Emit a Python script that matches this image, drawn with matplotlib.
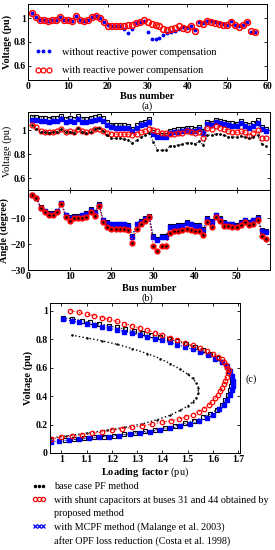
import matplotlib.pyplot as plt
from matplotlib.lines import Line2D

plt.rcParams['font.family'] = ['Liberation Serif', 'DejaVu Serif']
plt.rcParams['font.size'] = 7
plt.rcParams['mathtext.fontset'] = 'custom'
plt.rcParams['mathtext.rm'] = 'Liberation Serif'
plt.rcParams['mathtext.bf'] = 'Liberation Serif:bold'

# --- (a) bus voltages, IEEE 57-bus
bus = list(range(1, 58))
v_without = [1.04, 1.01, 0.985, 0.98, 0.975, 0.98, 0.985, 1.005, 0.98, 0.985,
             0.975, 1.015, 0.985, 0.975, 0.985, 1.01, 1.015, 1.0, 0.965, 0.94,
             0.935, 0.935, 0.935, 0.91, 0.875, 0.905, 0.96, 0.97, 0.975, 0.885,
             0.82, 0.82, 0.83, 0.86, 0.875, 0.885, 0.89, 0.905, 0.925, 0.915,
             0.935, 0.9, 0.965, 0.955, 0.975, 0.975, 0.965, 0.955, 0.95, 0.945,
             0.975, 0.945, 0.93, 0.945, 0.97, 0.885, 0.88]
v_with = [1.04, 1.01, 0.985, 0.98, 0.975, 0.98, 0.985, 1.005, 0.98, 0.985,
          0.975, 1.015, 0.985, 0.975, 0.985, 1.01, 1.015, 1.0, 0.965, 0.935,
          0.93, 0.93, 0.93, 0.93, 0.945, 0.94, 0.96, 0.97, 0.98, 0.965,
          0.95, 0.94, 0.93, 0.905, 0.9, 0.905, 0.915, 0.93, 0.92, 0.91,
          0.93, 0.89, 0.96, 0.95, 0.975, 0.97, 0.96, 0.95, 0.945, 0.94,
          0.97, 0.94, 0.925, 0.94, 0.965, 0.89, 0.885]

# --- (b) voltages and angles for four methods
vb_base = [1.04, 1.01, 0.985, 0.98, 0.975, 0.98, 0.985, 1.005, 0.98, 0.985,
           0.975, 1.015, 0.985, 0.975, 0.985, 1.01, 1.015, 0.995, 0.955, 0.93,
           0.93, 0.93, 0.925, 0.92, 0.89, 0.915, 0.94, 0.955, 0.975, 0.9,
           0.835, 0.83, 0.835, 0.865, 0.87, 0.875, 0.88, 0.895, 0.89, 0.885,
           0.905, 0.875, 0.96, 0.955, 0.97, 0.965, 0.955, 0.945, 0.945, 0.94,
           0.95, 0.94, 0.93, 0.94, 0.955, 0.885, 0.87]
vb_shunt = [1.04, 1.025, 0.99, 0.985, 0.985, 0.985, 0.99, 1.01, 0.985, 0.99,
            0.98, 1.01, 0.99, 0.98, 0.99, 1.005, 1.01, 0.995, 0.975, 0.97,
            0.965, 0.965, 0.965, 0.965, 0.955, 0.965, 0.98, 0.99, 1.01, 1.0,
            0.99, 0.975, 0.975, 0.97, 0.97, 0.975, 0.975, 0.99, 0.98, 0.975,
            0.985, 0.935, 1.02, 1.01, 1.03, 1.02, 1.01, 0.99, 0.985, 0.98,
            0.995, 0.98, 0.95, 0.975, 1.0, 0.935, 0.93]
vb_mcpf = [1.085, 1.085, 1.075, 1.075, 1.07, 1.075, 1.075, 1.09, 1.07, 1.075,
           1.065, 1.09, 1.07, 1.065, 1.075, 1.085, 1.09, 1.075, 1.045, 1.025,
           1.02, 1.02, 1.02, 1.015, 0.99, 1.02, 1.04, 1.05, 1.07, 0.965,
           0.94, 0.94, 0.94, 0.975, 0.98, 0.985, 0.99, 1.0, 0.995, 0.99,
           1.005, 0.975, 1.05, 1.04, 1.065, 1.055, 1.05, 1.04, 1.035, 1.03,
           1.055, 1.03, 1.02, 1.035, 1.055, 1.005, 0.995]
vb_opf = [1.11, 1.11, 1.10, 1.10, 1.095, 1.10, 1.10, 1.115, 1.095, 1.10,
          1.09, 1.115, 1.095, 1.09, 1.10, 1.11, 1.115, 1.10, 1.065, 1.045,
          1.04, 1.04, 1.04, 1.035, 1.01, 1.04, 1.06, 1.07, 1.09, 0.985,
          0.96, 0.96, 0.96, 0.995, 1.0, 1.005, 1.01, 1.02, 1.015, 1.01,
          1.025, 0.995, 1.07, 1.06, 1.085, 1.075, 1.07, 1.06, 1.055, 1.05,
          1.075, 1.05, 1.04, 1.055, 1.08, 1.025, 1.01]

ang_base = [-0.8, -2, -6, -7.5, -8.5, -8.8, -7.5, -4.5, -9.5, -11,
            -10, -10, -10, -9.5, -7.5, -9, -5, -11.5, -13.5, -14,
            -14, -14, -14, -14.5, -19.5, -14, -12, -11, -9.5, -20.5,
            -22.5, -20.5, -20.5, -15.5, -15, -15, -14.5, -14, -14.5, -15,
            -15, -16.5, -11.5, -13.5, -9.5, -11, -13, -13, -13.5, -13.5,
            -12.5, -11.5, -12.5, -12, -10.5, -17, -18]
ang_shunt = [-0.8, -2, -6, -7.5, -8.5, -8.8, -7.5, -4.5, -9.5, -11,
             -10, -10, -10, -9.5, -7.5, -9, -5, -11.5, -13.5, -14,
             -14, -14, -14, -14.5, -19.5, -14, -12, -11, -9.5, -20.5,
             -22.5, -20.5, -20.5, -15.5, -15, -15, -14.5, -14, -14.5, -15,
             -15, -16.5, -11.5, -13.5, -9.5, -11, -13, -13, -13.5, -13.5,
             -12.5, -11.5, -12.5, -12, -10.5, -17, -18]
ang_mcpf = [-0.8, -2, -5.8, -7.3, -8.1, -8.3, -7.3, -4.2, -8.8, -9.8,
            -9.3, -9.3, -8.8, -8.3, -6.8, -7.8, -4.7, -10.8, -11.8, -12.3,
            -12.3, -12.3, -12.3, -12.8, -17.3, -12.3, -11.3, -10.3, -9.3, -17.3,
            -18.3, -17.3, -17.3, -13.3, -13.3, -12.8, -12.8, -11.8, -12.3, -12.8,
            -12.8, -14.3, -10.3, -11.3, -8.8, -10.3, -11.8, -12.3, -12.3, -12.8,
            -11.8, -10.8, -11.8, -10.8, -9.8, -14.8, -15.3]
ang_opf = [-0.8, -2, -5.5, -7, -7.8, -8, -7, -4, -8.5, -9.5,
           -9, -9, -8.5, -8, -6.5, -7.5, -4.5, -10.5, -11.5, -12,
           -12, -12, -12, -12.5, -17, -12, -11, -10, -9, -17,
           -18, -17, -17, -13, -13, -12.5, -12.5, -11.5, -12, -12.5,
           -12.5, -14, -10, -11, -8.5, -10, -11.5, -12, -12, -12.5,
           -11.5, -10.5, -11.5, -10.5, -9.5, -14.5, -15]

# --- (c) PV curves
lf_base = [1.04, 1.10, 1.16, 1.22, 1.28, 1.34, 1.39, 1.43, 1.47, 1.50, 1.52, 1.535, 1.543,
           1.542, 1.535, 1.52, 1.50, 1.47, 1.43, 1.38, 1.32, 1.25, 1.18, 1.10, 1.02, 0.96]
v_base = [0.83, 0.81, 0.79, 0.765, 0.735, 0.70, 0.665, 0.63, 0.59, 0.555, 0.525, 0.495, 0.46,
          0.42, 0.39, 0.36, 0.33, 0.30, 0.265, 0.235, 0.205, 0.18, 0.16, 0.14, 0.12, 0.105]
lf_shunt = [1.036, 1.07, 1.10, 1.13, 1.16, 1.19, 1.22, 1.25, 1.28, 1.31, 1.34, 1.37, 1.40,
            1.43, 1.46, 1.49, 1.52, 1.55, 1.575, 1.60, 1.62, 1.635, 1.645, 1.653, 1.658,
            1.663, 1.66, 1.655, 1.65, 1.644, 1.637, 1.63, 1.62, 1.61, 1.597, 1.583, 1.566,
            1.545, 1.52, 1.495, 1.465, 1.435, 1.40, 1.36, 1.32, 1.28, 1.24, 1.20, 1.16,
            1.12, 1.08, 1.04, 1.00, 0.96]
v_shunt = [1.0, 0.99, 0.978, 0.966, 0.953, 0.94, 0.926, 0.911, 0.896, 0.88, 0.864, 0.848, 0.831,
           0.813, 0.795, 0.776, 0.757, 0.737, 0.718, 0.697, 0.677, 0.66, 0.64, 0.62, 0.60,
           0.585, 0.56, 0.535, 0.51, 0.485, 0.46, 0.435, 0.41, 0.385, 0.36, 0.335, 0.31,
           0.29, 0.27, 0.255, 0.24, 0.228, 0.216, 0.204, 0.192, 0.18, 0.17, 0.16, 0.148,
           0.138, 0.128, 0.118, 0.11, 0.10]
lf_mcpf = [1.007, 1.04, 1.07, 1.10, 1.13, 1.16, 1.19, 1.22, 1.25, 1.28, 1.31, 1.34, 1.37,
           1.40, 1.43, 1.46, 1.49, 1.52, 1.55, 1.58, 1.61, 1.635, 1.655, 1.668, 1.675,
           1.678, 1.678, 1.675, 1.668, 1.657, 1.643, 1.625, 1.60, 1.575, 1.545, 1.51,
           1.47, 1.43, 1.39, 1.35, 1.31, 1.27, 1.23, 1.19, 1.15, 1.11, 1.07, 1.03, 0.99, 0.96]
v_mcpf = [0.94, 0.93, 0.92, 0.91, 0.90, 0.889, 0.878, 0.867, 0.855, 0.843, 0.831, 0.819, 0.806,
          0.792, 0.778, 0.763, 0.747, 0.73, 0.711, 0.69, 0.665, 0.64, 0.61, 0.58, 0.545,
          0.51, 0.475, 0.44, 0.405, 0.37, 0.34, 0.31, 0.27, 0.245, 0.225, 0.205,
          0.188, 0.175, 0.162, 0.151, 0.14, 0.131, 0.123, 0.116, 0.11, 0.103, 0.097, 0.09, 0.085, 0.08]
lf_opf = [1.007, 1.042, 1.08, 1.115, 1.15, 1.187, 1.22, 1.253, 1.286, 1.32, 1.355, 1.39,
          1.425, 1.46, 1.495, 1.53, 1.56, 1.59, 1.615, 1.638, 1.655, 1.665, 1.672, 1.675,
          1.674, 1.67, 1.662, 1.65, 1.635, 1.615, 1.59, 1.56, 1.525, 1.49, 1.45, 1.41,
          1.37, 1.33, 1.29, 1.25, 1.21, 1.17, 1.13, 1.09, 1.05, 1.016]
v_opf = [0.953, 0.944, 0.932, 0.92, 0.908, 0.896, 0.884, 0.872, 0.86, 0.847, 0.833, 0.818,
         0.802, 0.785, 0.766, 0.745, 0.722, 0.697, 0.67, 0.64, 0.61, 0.58, 0.545, 0.51,
         0.475, 0.44, 0.405, 0.37, 0.34, 0.305, 0.275, 0.25, 0.228, 0.208, 0.19, 0.176,
         0.163, 0.152, 0.141, 0.131, 0.123, 0.116, 0.11, 0.103, 0.096, 0.088]

c_xticks = [1, 1.1, 1.2, 1.3, 1.4, 1.5, 1.6, 1.7]
c_xlabels = ['1', '1.1', '1.2', '1.3', '1.4', '1.5', '1.6', '1.7']
c_yticks = [0, 0.2, 0.4, 0.6, 0.8, 1]
c_ylabels = ['0', '0.2', '0.4', '0.6', '0.8', '1']


def style(ax):
    ax.tick_params(direction='in', top=True, right=True, length=2.5, width=0.6,
                   labelsize=7, pad=1.5)
    for lbl in ax.get_xticklabels() + ax.get_yticklabels():
        lbl.set_fontweight('bold')
    for s in ax.spines.values():
        s.set_linewidth(0.7)


fig = plt.figure(figsize=(2.75, 5.5), dpi=100)

# ---------------- (a)
ax = fig.add_axes([0.102, 0.855, 0.869, 0.138])
ax.plot(bus, v_without, ls='none', marker='.', color='blue', ms=3.5)
ax.plot(bus, v_with, ls='none', marker='o', mfc='none', mec='red', ms=4.2, mew=1.1)
ax.set_xlim(0, 60)
ax.set_ylim(0.48, 1.12)
ax.set_xticks([0, 10, 20, 30, 40, 50, 60])
ax.set_yticks([0.6, 0.8, 1])
ax.set_yticklabels(['0.6', '0.8', '1'])
ax.set_ylabel('Voltage (pu)', fontsize=7.5, fontweight='bold', labelpad=1)
ax.set_xlabel('Bus number', fontsize=7.5, fontweight='bold')
ax.xaxis.set_label_coords(0.5, -12.5 / 76)
style(ax)
h_a = [Line2D([], [], ls='none', marker='.', color='blue', ms=3.5),
       Line2D([], [], ls='none', marker='o', mfc='none', mec='red', ms=3.5, mew=0.9)]
ax.legend(h_a, ['without reactive power compensation', 'with reactive power compensation'],
          loc='upper left', bbox_to_anchor=(0.0, 0.52), frameon=False, numpoints=3,
          handlelength=1.6, handletextpad=1.0, labelspacing=0.9, fontsize=7.4,
          borderpad=0.2)
fig.text(0.535, 1 - 106.5 / 550, '(a)', ha='center', va='center', fontsize=7.2)

# ---------------- (b) voltage
axv = fig.add_axes([0.102, 0.6545, 0.88, 0.1418])
axv.plot(bus, vb_opf, ls=':', color='black', lw=0.8, marker='s', mfc='none', mec='black', ms=3.5, mew=0.8)
axv.plot(bus, vb_mcpf, ls=':', color='blue', lw=0.8, marker='s', mfc='blue', mec='blue', ms=2.5)
axv.plot(bus, vb_shunt, ls=':', color='red', lw=0.8, marker='o', mfc='none', mec='red', ms=3.5, mew=0.9)
axv.plot(bus, vb_base, ls=':', color='black', lw=0.8, marker='.', ms=2)
axv.set_xlim(0, 58)
axv.set_ylim(0.5, 1.15)
axv.set_xticks([0, 10, 20, 30, 40, 50])
axv.set_xticklabels([])
axv.set_yticks([0.6, 0.8, 1])
axv.set_yticklabels(['0.6', '0.8', '1'])
axv.set_ylabel('Voltage (pu)', fontsize=7.5, labelpad=1)
style(axv)

# ---------------- (b) angle
axa = fig.add_axes([0.102, 0.509, 0.88, 0.1455])
axa.plot(bus, ang_opf, ls=':', color='black', lw=0.8, marker='s', mfc='none', mec='black', ms=3.5, mew=0.8)
axa.plot(bus, ang_mcpf, ls=':', color='blue', lw=0.8, marker='s', mfc='blue', mec='blue', ms=2.5)
axa.plot(bus, ang_shunt, ls=':', color='red', lw=0.8, marker='o', mfc='red', mec='red', ms=3.5)
axa.plot(bus, ang_base, ls='none', color='black', marker='.', ms=1.5)
axa.set_xlim(0, 58)
axa.set_ylim(-30, 1)
axa.set_xticks([0, 10, 20, 30, 40, 50])
axa.set_yticks([-30, -20, -10])
axa.set_ylabel('Angle (degree)', fontsize=7.5, fontweight='bold', labelpad=1)
axa.set_xlabel('Bus number', fontsize=7.5, fontweight='bold')
axa.xaxis.set_label_coords(0.5, -13.5 / 80)
style(axa)
fig.text(0.535, 1 - 298 / 550, '(b)', ha='center', va='center', fontsize=7.2)

# ---------------- (c) PV curves
axc = fig.add_axes([0.182, 0.1764, 0.691, 0.2727])
axc.plot(lf_base, v_base, ls=':', color='black', lw=1.0, marker='.', ms=1.5)
axc.plot(lf_opf, v_opf, ls=':', color='black', lw=0.8, marker='s', mfc='none', mec='black', ms=3.2, mew=0.8)
axc.plot(lf_mcpf, v_mcpf, ls=':', color='blue', lw=0.8, marker='s', mfc='blue', mec='blue', ms=2.5)
axc.plot(lf_shunt, v_shunt, ls=':', color='red', lw=0.8, marker='o', mfc='none', mec='red', ms=3.2, mew=0.9)
axc.set_xlim(0.955, 1.708)
axc.set_ylim(0, 1.056)
axc.set_xticks(c_xticks)
axc.set_xticklabels(c_xlabels)
axc.set_yticks(c_yticks)
axc.set_yticklabels(c_ylabels)
axc.set_ylabel('Voltage (pu)', fontsize=7.5, fontweight='bold', labelpad=2)
axc.set_xlabel(r'$\mathbf{Loading\ factor}$ (pu)', fontsize=7.5, labelpad=1)
style(axc)
fig.text(246 / 275, 1 - 379 / 550, '(c)', ha='left', va='center', fontsize=7.5)

h_c = [Line2D([], [], ls='none', marker='.', color='black', ms=3),
       Line2D([], [], ls='none', marker='o', mfc='none', mec='red', ms=3, mew=0.9),
       Line2D([], [], ls='none', marker=None),
       Line2D([], [], ls='none', marker='x', color='blue', ms=3, mew=0.9),
       Line2D([], [], ls='none', marker=None)]
l_c = ['base case PF method',
       'with shunt capacitors at buses 31 and 44 obtained by',
       'proposed method',
       'with MCPF method (Malange et al. 2003)',
       'after OPF loss reduction (Costa et al. 1998)']
fig.legend(h_c, l_c, loc='upper left', bbox_to_anchor=(27 / 275, 1 - 477 / 550),
           frameon=False, numpoints=3, handlelength=1.4, handletextpad=0.8,
           labelspacing=0.42, fontsize=7.3, borderpad=0)

fig.savefig('out.png', dpi=100)
plt.close()
